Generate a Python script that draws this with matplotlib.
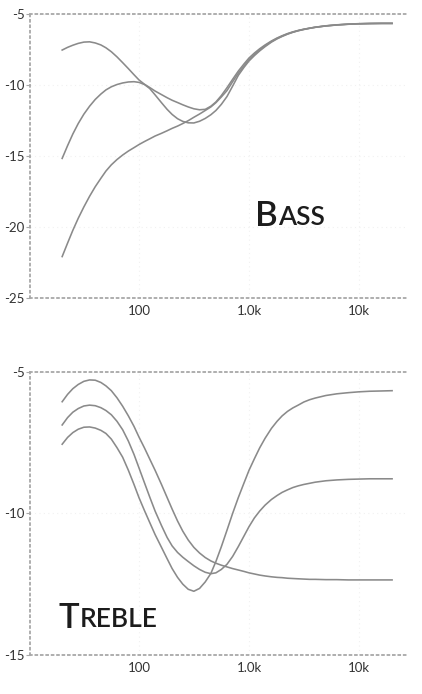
from __future__ import annotations

import matplotlib

matplotlib.use("Agg")
import matplotlib.pyplot as plt
from matplotlib.ticker import FixedLocator, NullLocator

# sixth-octave frequencies (Hz) the curves were read at, coarser above 4 kHz
freqs = [20, 22.4, 25, 28, 31.5, 35.5, 40, 45, 50, 56, 63, 71, 80, 90, 100, 112, 125,
         140, 160, 180, 200, 224, 250, 280, 315, 355, 400, 450, 500, 560, 630, 710, 800,
         900, 1000, 1120, 1250, 1400, 1600, 1800, 2000, 2240, 2500, 2800, 3150, 3550,
         4000, 5000, 6300, 8000, 10000, 12500, 16000, 20000]

# BASS panel, response in dB
bass_high = [-7.54, -7.35, -7.2, -7.07, -6.98, -6.96, -7.04, -7.18, -7.38, -7.66,
             -8.02, -8.43, -8.85, -9.28, -9.65, -9.95, -10.18, -10.43, -10.68, -10.9,
             -11.08, -11.24, -11.4, -11.55, -11.68, -11.75, -11.72, -11.5, -11.2, -10.75,
             -10.2, -9.6, -9.02, -8.52, -8.1, -7.75, -7.45, -7.18, -6.9, -6.69,
             -6.53, -6.38, -6.26, -6.16, -6.07, -6.0, -5.93, -5.83, -5.76, -5.71,
             -5.68, -5.67, -5.66, -5.66]
bass_mid = [-15.18, -14.28, -13.46, -12.72, -12.06, -11.5, -11.02, -10.64, -10.35, -10.13,
            -9.97, -9.86, -9.79, -9.77, -9.82, -9.97, -10.25, -10.7, -11.25, -11.72,
            -12.08, -12.38, -12.57, -12.67, -12.68, -12.56, -12.36, -12.1, -11.8, -11.37,
            -10.82, -10.08, -9.32, -8.76, -8.31, -7.93, -7.6, -7.3, -6.98, -6.75,
            -6.58, -6.42, -6.29, -6.18, -6.09, -6.01, -5.94, -5.84, -5.77, -5.72,
            -5.69, -5.67, -5.66, -5.66]
bass_low = [-22.1, -21.15, -20.25, -19.4, -18.6, -17.85, -17.17, -16.58, -16.07, -15.63,
            -15.26, -14.94, -14.66, -14.42, -14.2, -13.99, -13.8, -13.6, -13.41, -13.23,
            -13.06, -12.9, -12.72, -12.52, -12.28, -12.05, -11.8, -11.55, -11.25, -10.85,
            -10.4, -9.77, -9.17, -8.66, -8.22, -7.85, -7.53, -7.24, -6.94, -6.72,
            -6.56, -6.4, -6.28, -6.17, -6.08, -6.0, -5.93, -5.84, -5.77, -5.72,
            -5.69, -5.67, -5.66, -5.66]

# TREBLE panel, response in dB
treble_high = [-6.06, -5.8, -5.6, -5.45, -5.34, -5.29, -5.3, -5.38, -5.5, -5.67,
               -5.92, -6.22, -6.56, -6.93, -7.31, -7.69, -8.08, -8.48, -8.98, -9.44,
               -9.85, -10.27, -10.63, -10.94, -11.2, -11.4, -11.56, -11.68, -11.76, -11.83,
               -11.89, -11.95, -12.0, -12.05, -12.1, -12.14, -12.18, -12.21, -12.24, -12.26,
               -12.27, -12.29, -12.3, -12.31, -12.32, -12.33, -12.33, -12.34, -12.34, -12.35,
               -12.35, -12.35, -12.35, -12.35]
treble_mid = [-6.88, -6.62, -6.43, -6.3, -6.21, -6.18, -6.2, -6.27, -6.37, -6.52,
              -6.75, -7.05, -7.45, -7.92, -8.4, -8.92, -9.42, -9.92, -10.43, -10.85,
              -11.15, -11.38, -11.55, -11.7, -11.85, -11.98, -12.08, -12.13, -12.1, -11.98,
              -11.8, -11.52, -11.17, -10.8, -10.47, -10.16, -9.92, -9.71, -9.51, -9.37,
              -9.26, -9.17, -9.09, -9.03, -8.98, -8.94, -8.9, -8.85, -8.82, -8.8,
              -8.79, -8.78, -8.78, -8.78]
treble_low = [-7.56, -7.32, -7.15, -7.03, -6.96, -6.95, -6.99, -7.07, -7.18, -7.38,
              -7.68, -8.02, -8.48, -8.98, -9.45, -9.9, -10.32, -10.75, -11.2, -11.6,
              -11.95, -12.26, -12.5, -12.68, -12.75, -12.65, -12.42, -12.12, -11.7, -11.18,
              -10.6, -10.0, -9.44, -8.93, -8.48, -8.07, -7.69, -7.35, -7.0, -6.75,
              -6.56, -6.4, -6.28, -6.18, -6.07, -5.99, -5.93, -5.84, -5.78, -5.74,
              -5.71, -5.69, -5.68, -5.67]

x_ticks = [100, 1000, 10000]
x_tick_labels = ["100", "1.0k", "10k"]
bass_y_ticks = [-5, -10, -15, -20, -25]
treble_y_ticks = [-5, -10, -15]

LINE_COLOR = "#8a8a8a"
DOT_COLOR = "#a8a8a8"
TEXT_COLOR = "#1c1c1c"
FONT = ["Lato", "DejaVu Sans"]


def style_axes(ax, y_ticks, y_lim):
    ax.set_xscale("log")
    ax.set_xlim(10.2, 27900)
    ax.set_ylim(*y_lim)
    ax.xaxis.set_major_locator(FixedLocator(x_ticks))
    ax.set_xticklabels(x_tick_labels)
    ax.xaxis.set_minor_locator(NullLocator())
    ax.set_yticks(y_ticks)
    ax.set_yticklabels([str(v) for v in y_ticks])
    for name in ["top", "bottom", "left"]:
        ax.spines[name].set_color(DOT_COLOR)
        ax.spines[name].set_linestyle((0, (1, 2)))
        ax.spines[name].set_linewidth(1.3)
    ax.spines["right"].set_visible(False)
    ax.tick_params(axis="y", length=3, width=0.8, color=DOT_COLOR, pad=1, labelsize=9.5, labelcolor="#333333")
    ax.tick_params(axis="x", length=0, pad=5, labelsize=9.5, labelcolor="#333333")
    for label in ax.get_xticklabels() + ax.get_yticklabels():
        label.set_family(FONT)
    ax.grid(True, color="#f1f1f1", linestyle=(0, (1, 3)), linewidth=0.8)
    ax.set_axisbelow(True)


def small_caps(ax, x, y, first, rest):
    t1 = ax.text(x, y, first, fontsize=25, family=FONT, weight="semibold", color=TEXT_COLOR,
                 va="bottom", ha="left")
    ax.annotate(rest, xy=(1, 0), xycoords=t1, xytext=(0.5, 1.2), textcoords="offset points",
                fontsize=19, family=FONT, weight="semibold", color=TEXT_COLOR, va="bottom", ha="left")


def main() -> None:
    fig = plt.figure(figsize=(4.22, 6.94), dpi=100)
    ax_bass = fig.add_axes([0.0711, 0.571, 0.8957, 0.4088])
    ax_treble = fig.add_axes([0.0711, 0.0562, 0.8957, 0.4082])

    for series in [bass_high, bass_mid, bass_low]:
        ax_bass.plot(freqs, series, color=LINE_COLOR, linewidth=1.15, solid_joinstyle="round")
    for series in [treble_high, treble_mid, treble_low]:
        ax_treble.plot(freqs, series, color=LINE_COLOR, linewidth=1.15, solid_joinstyle="round")

    style_axes(ax_bass, bass_y_ticks, (-25, -5))
    style_axes(ax_treble, treble_y_ticks, (-15, -5))

    small_caps(ax_bass, 1135, -20.35, "B", "ASS")
    small_caps(ax_treble, 18.4, -14.25, "T", "REBLE")

    fig.savefig("out.png", dpi=100)
    plt.close(fig)


if __name__ == "__main__":
    main()
